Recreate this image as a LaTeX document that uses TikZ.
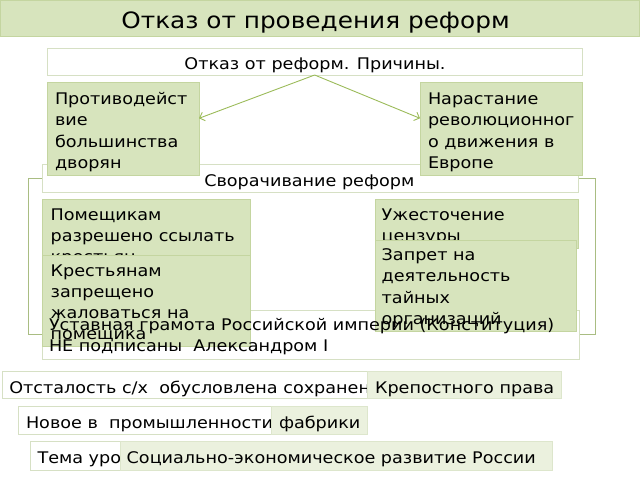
\documentclass[tikz,border=0pt]{standalone}
\usepackage{fontspec}
\setmainfont{DejaVu Sans}[FakeStretch=1.1]
\usetikzlibrary{arrows.meta,calc}
\definecolor{gfill}{HTML}{D7E4BD}
\definecolor{gline}{HTML}{C4D5A0}
\definecolor{lfill}{HTML}{EBF1DE}
\definecolor{lline}{HTML}{DDE6CC}
\definecolor{wline}{HTML}{D6E0C4}
\definecolor{olive}{HTML}{9BBB59}
\definecolor{framec}{HTML}{A9BD82}
\newcommand\mtext[1]{\vtop{\baselineskip=21.3pt\lineskiplimit=-100pt\lineskip=0pt #1}}
\newcommand\Lx[1]{\hbox{#1}}
\begin{document}
\begin{tikzpicture}[x=1pt,y=-1pt,
  box/.style={anchor=north west, inner sep=0pt, outer sep=0pt, line width=0.8pt},
  gbox/.style={box, fill=gfill, draw=gline},
  wbox/.style={box, fill=white, draw=wline},
  lbox/.style={box, fill=lfill, draw=lline},
  txt/.style={inner sep=0pt, outer sep=0pt, anchor=base west, font=\fontsize{16}{21.3}\selectfont},
  ttl/.style={inner sep=0pt, outer sep=0pt, anchor=base, font=\fontsize{22.5}{26}\selectfont},
  arr/.style={draw=olive, line width=0.9pt, -{Straight Barb[length=4.5pt,width=9pt]}},
  framestyle/.style={draw=framec, line width=0.9pt}]
\useasboundingbox (0,0) rectangle (640,480);
% title
\node[gbox, minimum width=639.2pt, minimum height=35.6pt] (title) at (0.4,0.4) {};
\node[ttl] (titlet) at (315.5,28.3) {Отказ от проведения реформ};
% causes header
\node[wbox, minimum width=534.7pt, minimum height=26.7pt] (why) at (47.3,48.3) {};
\node[txt, anchor=base] (whyt) at (315,69.3) {Отказ от реформ. Причины.};
% frame
\node[box, framestyle, minimum width=567.2pt, minimum height=156.5pt] (frame) at (28.3,178) {};
% rollback header
\node[wbox, minimum width=535.3pt, minimum height=27.8pt] (svor) at (42.7,164.5) {};
\node[txt] (svort) at (204.3,186) {Сворачивание реформ};
% causes
\node[gbox, minimum width=151.7pt, minimum height=92.3pt] (left) at (47.3,82.7) {};
\node[txt] (leftt) at (55,104.4) {\mtext{\Lx{Противодейст}\Lx{вие}\Lx{большинства}\Lx{дворян}}};
\node[gbox, minimum width=162pt, minimum height=92.3pt] (right) at (420,82.7) {};
\node[txt] (rightt) at (428,104.4) {\mtext{\Lx{Нарастание}\Lx{революционног}\Lx{о движения в}\Lx{Европе}}};
% arrows
\coordinate (ay) at (0,118.3);
\draw[arr] (why.south) -- (left.east |- ay);
\draw[arr] (why.south) -- (right.west |- ay);
% charter box (fill)
\node[wbox, minimum width=536.6pt, minimum height=49.3pt] (ust) at (42.7,310) {};
% measures
\node[gbox, minimum width=207.3pt, minimum height=60pt] (pom) at (42.7,199.3) {};
\node[txt] (pomt) at (50.7,220) {\mtext{\Lx{Помещикам}\Lx{разрешено ссылать}\Lx{крестьян}}};
\node[gbox, minimum width=207.3pt, minimum height=90.5pt] (kre) at (42.7,255.7) {};
\node[txt] (kret) at (50.7,276) {\mtext{\Lx{Крестьянам}\Lx{запрещено}\Lx{жаловаться на}\Lx{помещика}}};
\node[gbox, minimum width=203pt, minimum height=49pt] (uzh) at (375,199.3) {};
\node[txt] (uzht) at (381.7,220) {\mtext{\Lx{Ужесточение}\Lx{цензуры}}};
\node[gbox, minimum width=201pt, minimum height=91.7pt] (zap) at (375,240) {};
\node[txt] (zapt) at (381.7,260.5) {\mtext{\Lx{Запрет на}\Lx{деятельность}\Lx{тайных}\Lx{организаций}}};
% charter text
\node[txt] (ustt) at (49,330.5) {\mtext{\Lx{Уставная грамота Российской империи (Конституция)}\Lx{НЕ подписаны\ \ Александром I}}};
% bottom rows
\node[wbox, minimum width=368pt, minimum height=27.3pt] (r1w) at (2.7,371) {};
\node[txt] (r1wt) at (9.3,393.3) {Отсталость с/х\ \ обусловлена сохранен};
\node[lbox, minimum width=193.7pt, minimum height=27.3pt] (r1g) at (367.3,371) {};
\node[txt] (r1gt) at (375,393.3) {Крепостного права};
\node[wbox, minimum width=256pt, minimum height=27.6pt] (r2w) at (18.3,406.7) {};
\node[txt] (r2wt) at (26,428.3) {Новое в\ \ промышленности};
\node[lbox, minimum width=95.6pt, minimum height=27.6pt] (r2g) at (271.7,406.7) {};
\node[txt] (r2gt) at (279,428.3) {фабрики};
\node[wbox, minimum width=92pt, minimum height=28.3pt] (r3w) at (30.7,441.7) {};
\node[txt] (r3wt) at (37.5,463.3) {Тема уро};
\node[lbox, minimum width=432pt, minimum height=28.3pt] (r3g) at (120,441.7) {};
\node[txt] (r3gt) at (126.7,463.3) {Социально-экономическое развитие России};
\end{tikzpicture}
\end{document}
